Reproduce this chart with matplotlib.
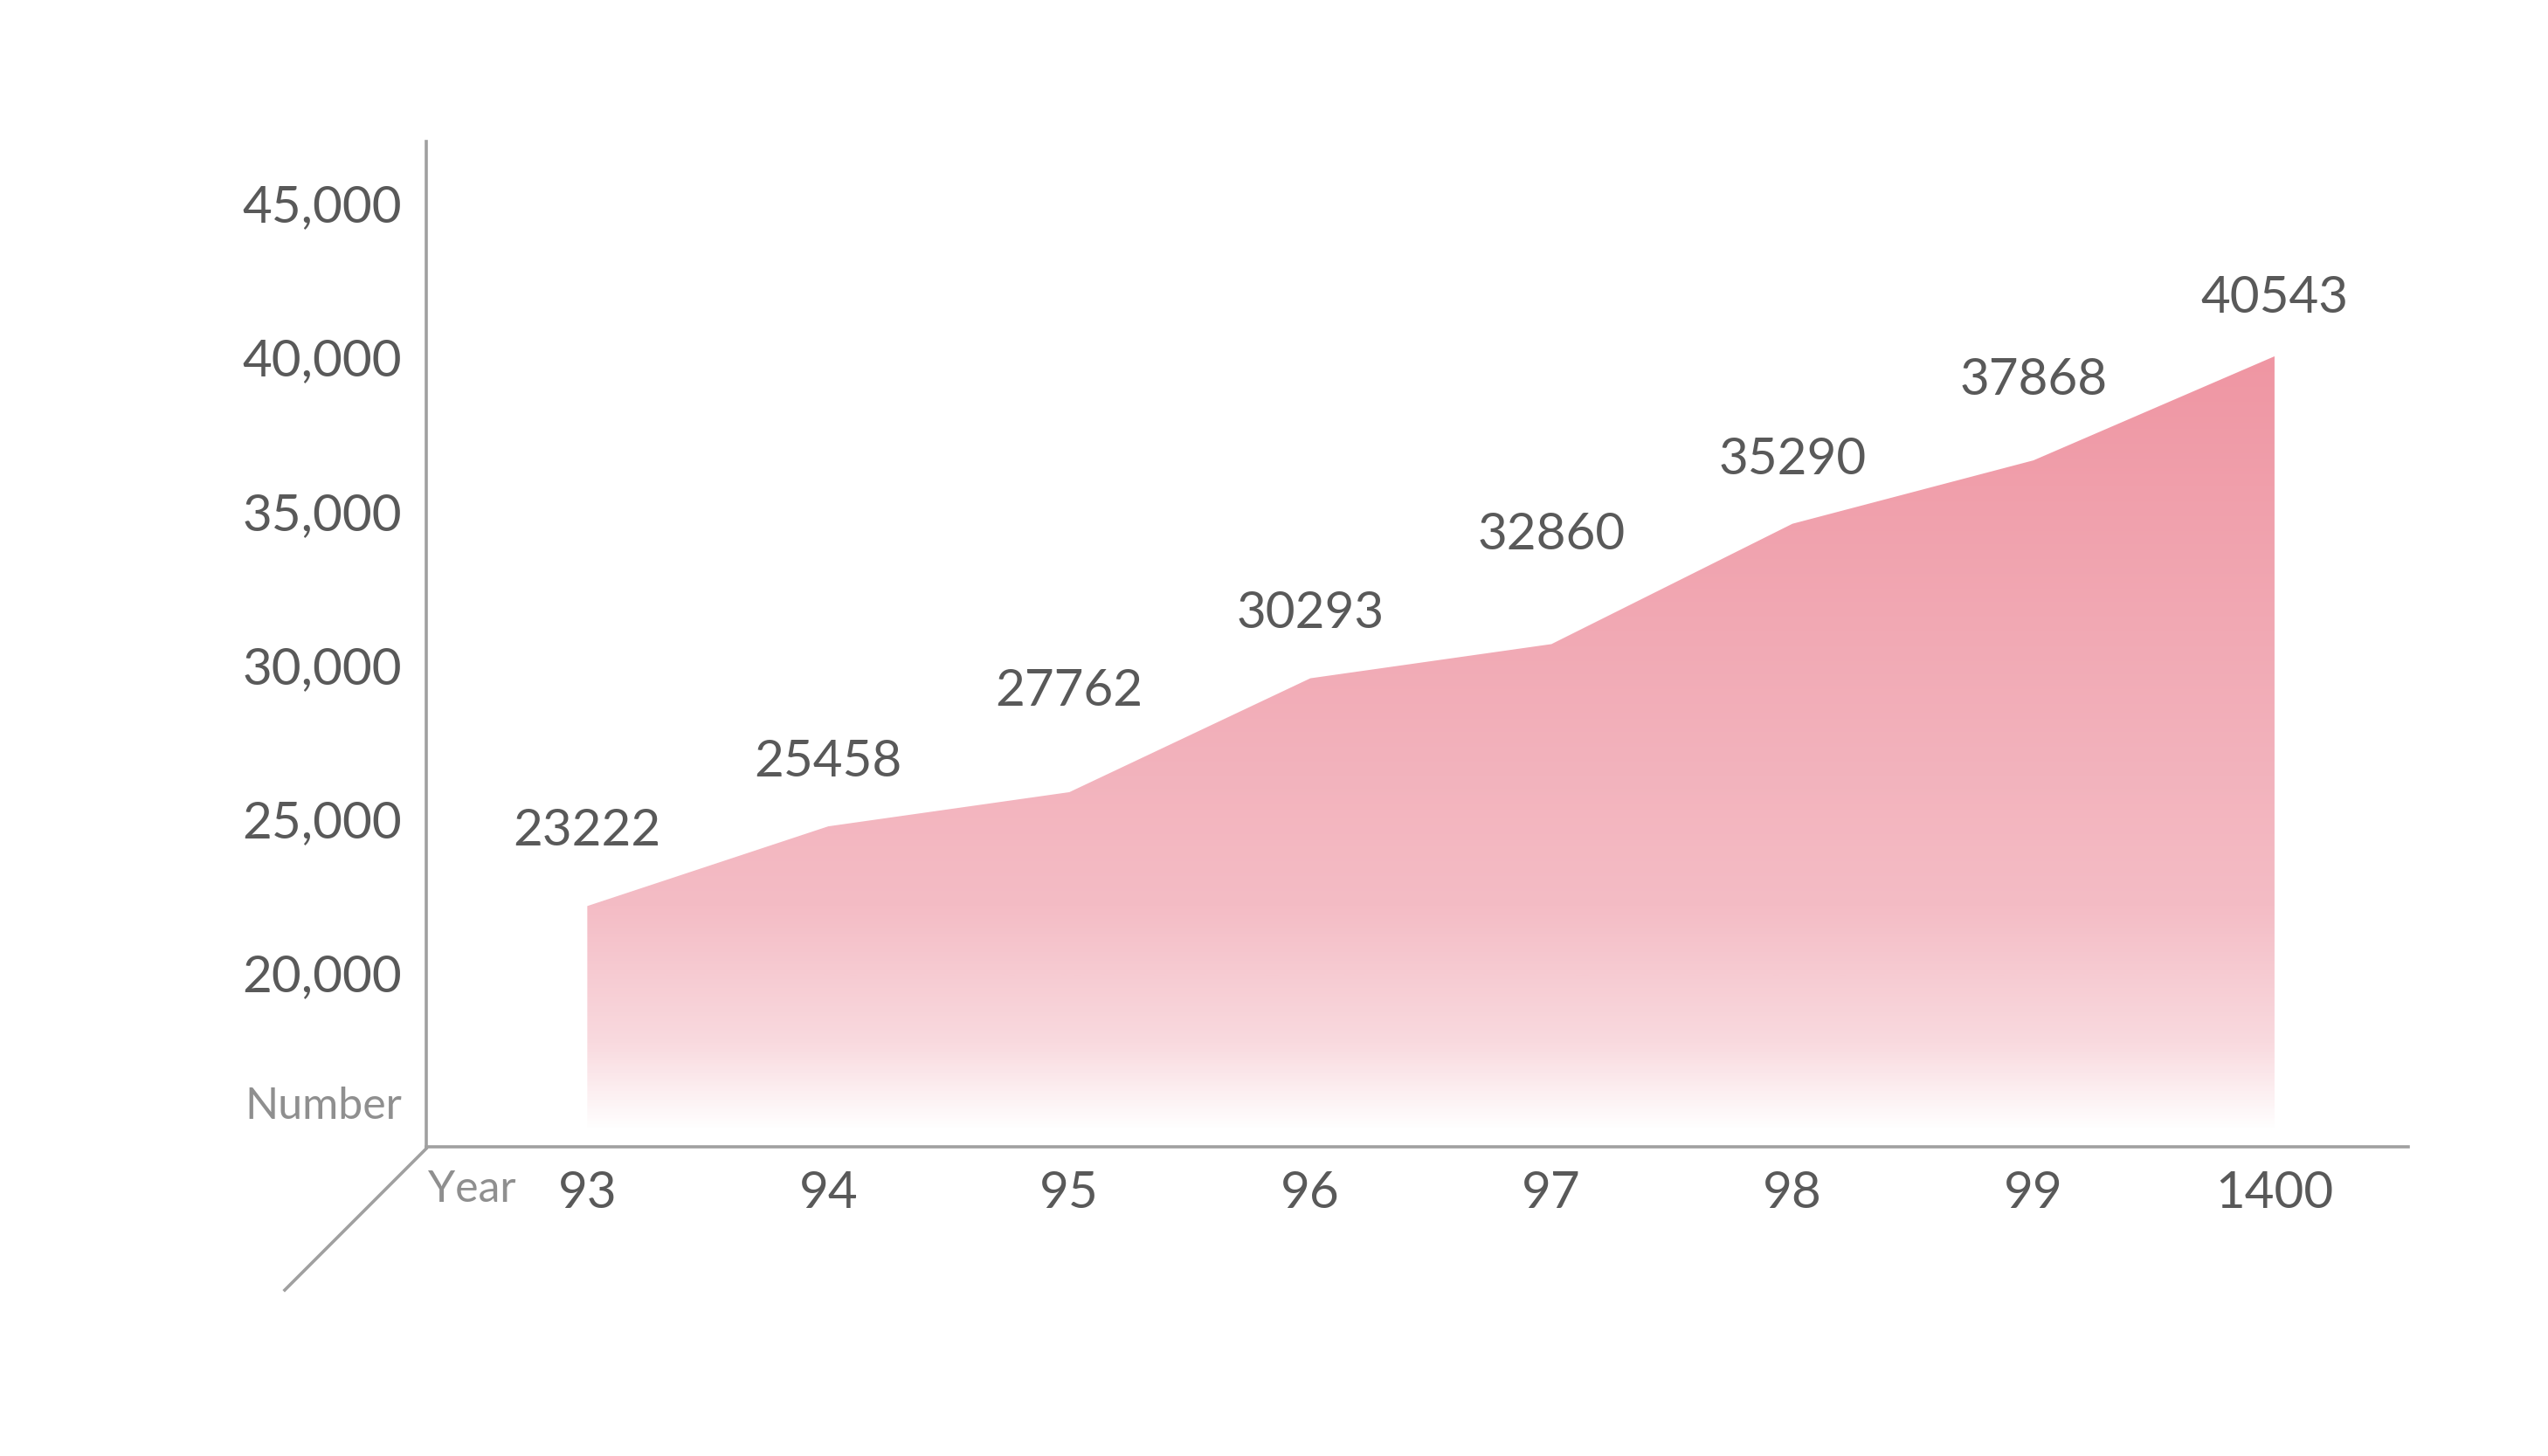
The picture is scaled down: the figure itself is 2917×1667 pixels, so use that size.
import numpy as np
import matplotlib.pyplot as plt
from matplotlib.colors import LinearSegmentedColormap
from matplotlib.patches import Polygon
from matplotlib.lines import Line2D
from matplotlib.ticker import FuncFormatter

# values
years = ['93', '94', '95', '96', '97', '98', '99', '1400']
area_values = [22170, 24760, 25870, 29570, 30680, 34590, 36650, 40030]
label_values = [23222, 25458, 27762, 30293, 32860, 35290, 37868, 40543]
y_ticks = [20000, 25000, 30000, 35000, 40000, 45000]

plt.rcParams['font.family'] = ['Lato', 'DejaVu Sans']

text_col = '#595959'
light_col = '#8f8f8f'
axis_col = '#a0a0a0'

# reference measured on a 1566 x 895 view
W, H = 1566, 895

fig = plt.figure(figsize=(29.17, 16.67), dpi=100)
ax = fig.add_axes([262 / W, 1 - 705 / H, (1480 - 262) / W, (705 - 87) / H])

x = np.arange(len(years))
base = 14900
top = max(area_values)

# gradient fill clipped to the area shape
cmap = LinearSegmentedColormap.from_list(
    'pinkfade',
    [(0.0, '#ffffff'), (0.11, '#f9dadf'), (0.29, '#f4bcc5'), (1.0, '#ef96a3')])
grad = np.linspace(0, 1, 512).reshape(-1, 1)
im = ax.imshow(grad, cmap=cmap, origin='lower', aspect='auto',
               extent=[x[0], x[-1], base, top], zorder=1)
verts = list(zip(x, area_values)) + [(x[-1], base), (x[0], base)]
shape = Polygon(verts, closed=True, fc='none', ec='none')
ax.add_patch(shape)
im.set_clip_path(shape)

ax.set_xlim(-0.668, 7.554)
ax.set_ylim(14345, 47008)

for i, v in enumerate(label_values):
    ax.annotate(str(v), (x[i], v), xytext=(0, 35), textcoords='offset points',
                ha='center', va='center', fontsize=42, color=text_col)

ax.set_xticks(x)
ax.set_xticklabels(years)
ax.set_yticks(y_ticks)
ax.yaxis.set_major_formatter(FuncFormatter(lambda v, p: f'{int(v):,}'))
ax.tick_params(length=0, labelsize=42, labelcolor=text_col)
ax.tick_params(axis='y', pad=20)
ax.tick_params(axis='x', pad=19)

for s in ['top', 'right']:
    ax.spines[s].set_visible(False)
for s in ['left', 'bottom']:
    ax.spines[s].set_color(axis_col)
    ax.spines[s].set_linewidth(2.6)

fig.text(247 / W, 1 - 680 / H, 'Number', ha='right', va='center',
         fontsize=36, color=light_col)
fig.text(263 / W, 1 - 731 / H, 'Year', ha='left', va='center',
         fontsize=36, color=light_col)

fig.add_artist(Line2D([262 / W, 175 / W], [1 - 706 / H, 1 - 793 / H],
                      transform=fig.transFigure, color=axis_col, lw=2.6))

fig.savefig('out.png', dpi=100)
